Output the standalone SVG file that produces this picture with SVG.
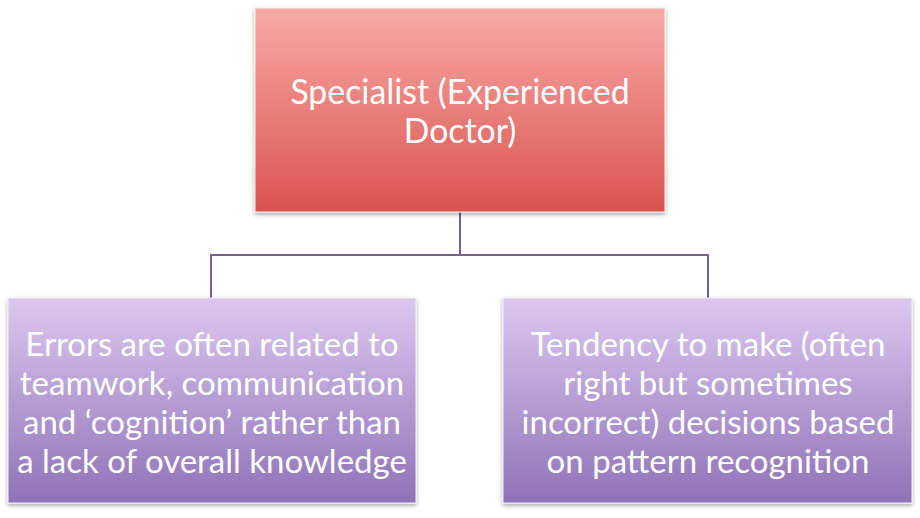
<svg xmlns="http://www.w3.org/2000/svg" width="920" height="518" viewBox="0 0 920 518">
<defs>
<linearGradient id="gr" x1="0" y1="0" x2="0" y2="1"><stop offset="0" stop-color="#f9aaa7"/><stop offset="1" stop-color="#d9534f"/></linearGradient>
<linearGradient id="gp" x1="0" y1="0" x2="0" y2="1"><stop offset="0" stop-color="#dcc8ef"/><stop offset="1" stop-color="#8f72b8"/></linearGradient>
<filter id="sh" x="-5%" y="-5%" width="110%" height="115%"><feDropShadow dx="0" dy="2" stdDeviation="2" flood-color="#000" flood-opacity="0.35"/></filter>
</defs>
<style>
text{font-family:Lato,"Open Sans","Liberation Sans",sans-serif;fill:#fff;text-anchor:middle}
.t{font-size:33.8px}.b{font-size:33px}
.c{fill:none;stroke:#7b5c99;stroke-width:2}
</style>
<rect width="920" height="518" fill="#fff"/>
<g id="connectors"><path class="c" d="M460 212V255H211V298M460 255H708V298"/></g>
<g id="top"><rect x="255" y="8" width="410" height="204" fill="url(#gr)" stroke="#f2f2f2" filter="url(#sh)"/>
<text class="t" x="460" y="104">Specialist (Experienced</text><text class="t" x="460" y="143">Doctor)</text></g>
<g id="left"><rect x="8" y="298" width="408" height="205" fill="url(#gp)" stroke="#f2f2f2" filter="url(#sh)"/>
<text class="b" x="212" y="356">Errors are often related to</text><text class="b" x="212" y="395">teamwork, communication</text><text class="b" x="212" y="434">and ‘cognition’ rather than</text><text class="b" x="212" y="473">a lack of overall knowledge</text></g>
<g id="right"><rect x="503" y="298" width="409" height="205" fill="url(#gp)" stroke="#f2f2f2" filter="url(#sh)"/>
<text class="b" x="708" y="356">Tendency to make (often</text><text class="b" x="708" y="395">right but sometimes</text><text class="b" x="708" y="434">incorrect) decisions based</text><text class="b" x="708" y="473">on pattern recognition</text></g>
</svg>
